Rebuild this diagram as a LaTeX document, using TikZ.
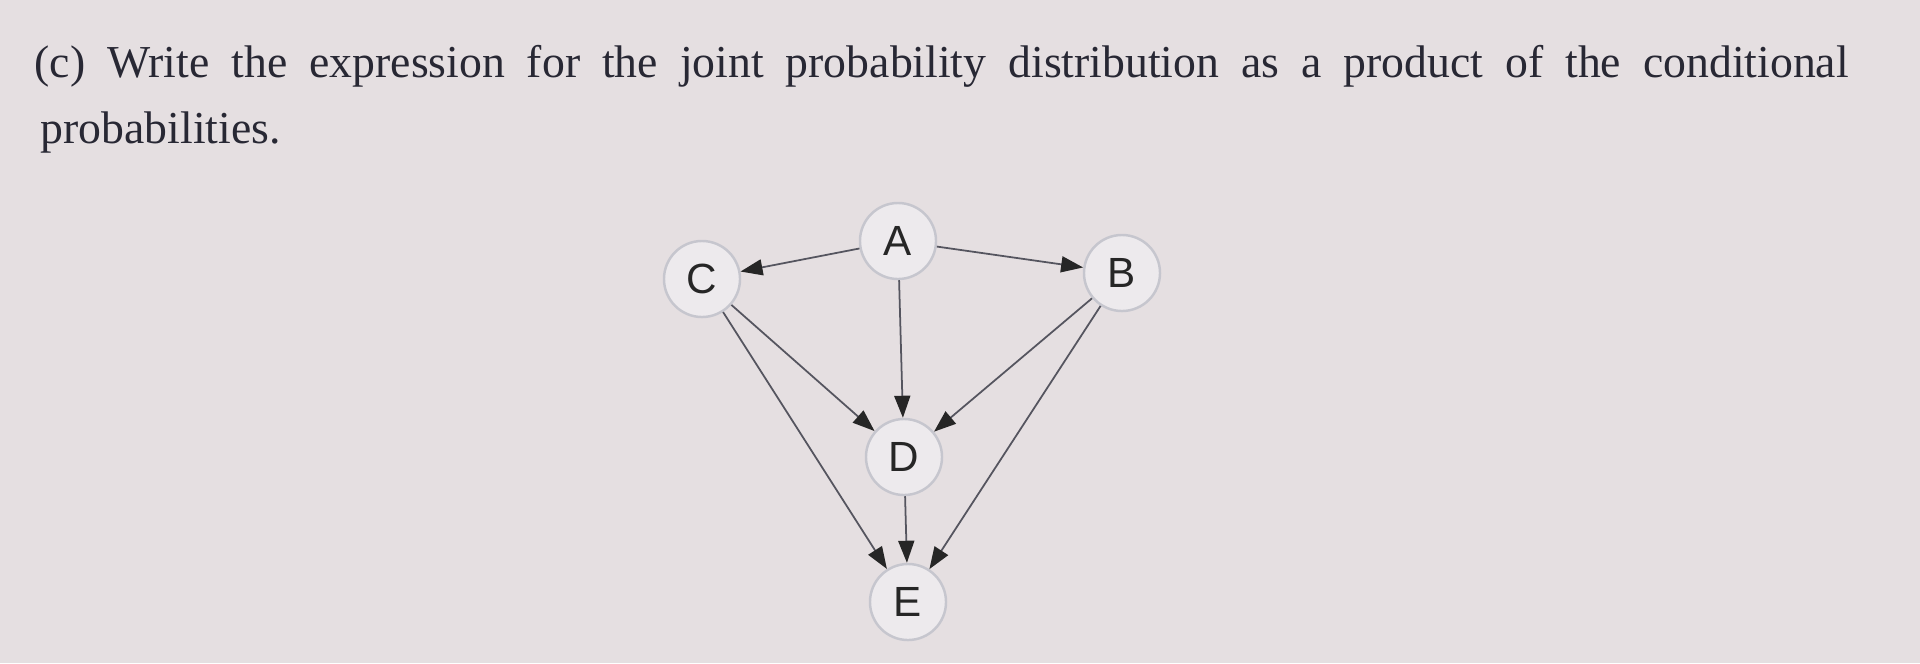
\documentclass[tikz,border=0pt]{standalone}
\usepackage{fontspec}
\setmainfont{Liberation Serif}
\newfontfamily\nodefont{Liberation Sans}
\usetikzlibrary{arrows.meta}
\definecolor{paper}{RGB}{229,223,225}
\definecolor{nodefill}{RGB}{237,234,237}
\definecolor{nodeline}{RGB}{198,198,206}
\definecolor{edgegray}{RGB}{85,85,95}
\definecolor{ink}{RGB}{40,40,52}

\begin{document}
\begin{tikzpicture}[x=0.01cm,y=-0.01cm,
            var/.style={circle,draw=nodeline,fill=nodefill,line width=0.7pt,
              minimum size=0.76cm,inner sep=0pt,
              font=\nodefont\fontsize{12}{12}\selectfont,text=black!85},
            every edge/.style={draw=edgegray,line width=0.5pt},
            >={Triangle[length=2.2mm,width=1.6mm,color=black!85]}]
            \fill[paper](0,0)rectangle(1920,663);
            \useasboundingbox(0,0)rectangle(1920,663);
            % question text
            \node[anchor=base west,inner sep=0pt,text=ink,
              font=\fontsize{13}{13}\selectfont](line1)at(34,77)
              {\makebox[18.13cm][s]{(c) Write the expression for the joint
              probability distribution as a product of the conditional}};
            \node[anchor=base west,inner sep=0pt,text=ink,
              font=\fontsize{13}{13}\selectfont](line2)at(40,143){probabilities.};
            % network
            \node[var](A)at(898,241){A};
            \node[var](C)at(702,279){C};
            \node[var](B)at(1122,273){B};
            \node[var](D)at(904,457){D};
            \node[var](E)at(908,602){E};
            \draw[->](A)edge(C)(A)edge(B)(A)edge(D);
            \draw[->](C)edge(D)(C)edge(E);
            \draw[->](B)edge(D)(B)edge(E);
            \draw[->](D)edge(E);
        \end{tikzpicture}
\end{document}
